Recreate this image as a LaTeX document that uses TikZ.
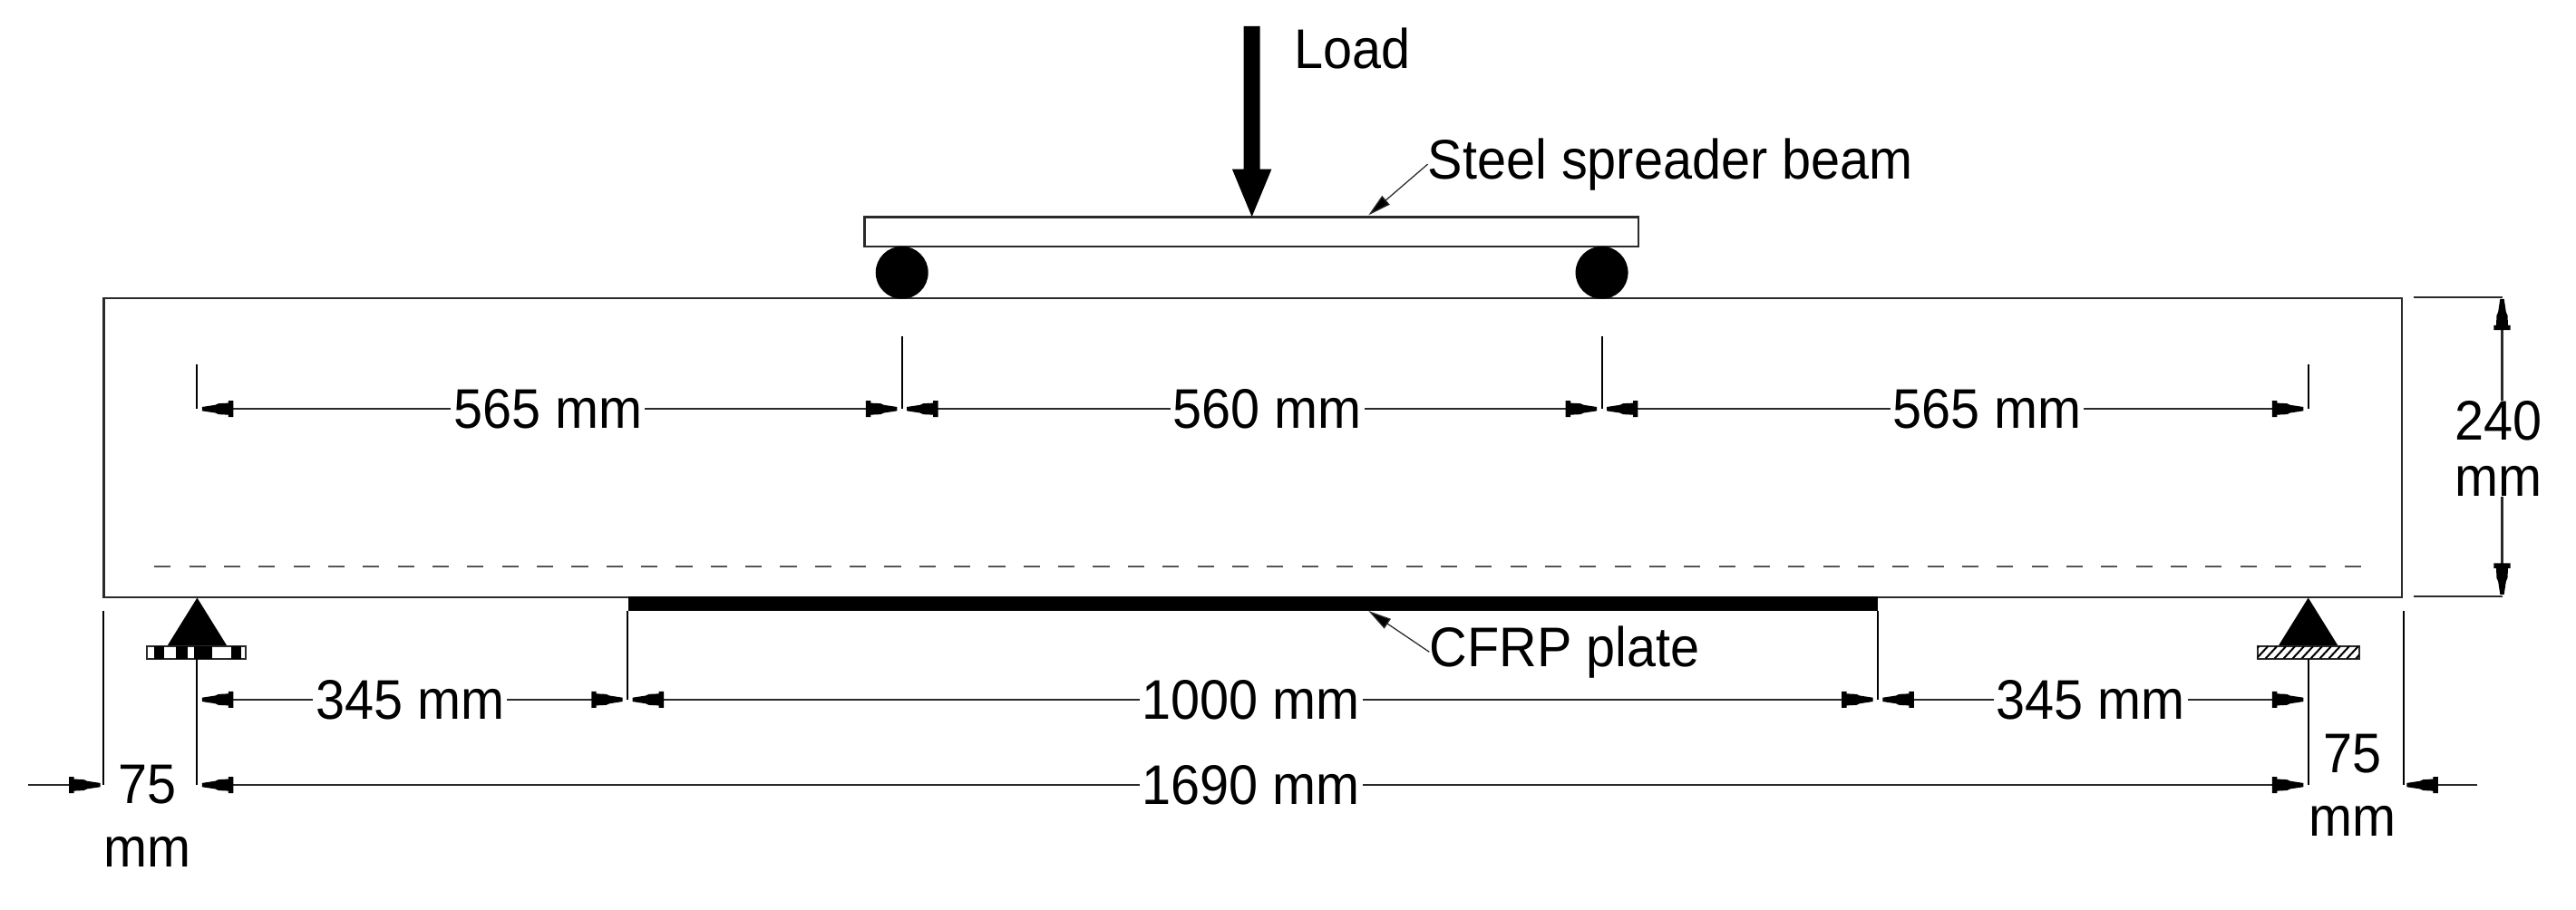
\documentclass[tikz,border=0pt]{standalone}
\usepackage{fontspec}
\setmainfont{Liberation Sans}
\usetikzlibrary{arrows.meta}
\definecolor{ln}{HTML}{2A2A2A}
\pgfdeclarearrow{
  name=BluntTip,
  setup code={
    \pgfarrowssettipend{0pt}
    \pgfarrowssetlineend{-6pt}
    \pgfarrowssetvisualbackend{-19pt}
    \pgfarrowssetbackend{-19pt}
    \pgfarrowshullpoint{0pt}{1.4pt}
    \pgfarrowshullpoint{0pt}{-1.4pt}
    \pgfarrowshullpoint{-19pt}{5pt}
    \pgfarrowshullpoint{-19pt}{-5pt}
  },
  drawing code={
    \pgfpathmoveto{\pgfpoint{0pt}{1.2pt}}
    \pgfpathlineto{\pgfpoint{-8pt}{2.4pt}}
    \pgfpathlineto{\pgfpoint{-10pt}{3.3pt}}
    \pgfpathlineto{\pgfpoint{-16pt}{3.6pt}}
    \pgfpathlineto{\pgfpoint{-16pt}{5pt}}
    \pgfpathlineto{\pgfpoint{-19pt}{5pt}}
    \pgfpathlineto{\pgfpoint{-19pt}{-5pt}}
    \pgfpathlineto{\pgfpoint{-16pt}{-5pt}}
    \pgfpathlineto{\pgfpoint{-16pt}{-3.6pt}}
    \pgfpathlineto{\pgfpoint{-10pt}{-3.3pt}}
    \pgfpathlineto{\pgfpoint{-8pt}{-2.4pt}}
    \pgfpathlineto{\pgfpoint{0pt}{-1.2pt}}
    \pgfpathclose
    \pgfsetcolor{black}
    \pgfusepathqfill
  }
}
\tikzset{
  x=1pt,y=-1pt,
  lbl/.style={font=\fontsize{34}{34}\selectfont,xscale=.935,text=black,inner sep=0pt,anchor=center},
  dimlbl/.style={lbl,fill=white,inner xsep=1.5pt},
  txt/.style={lbl,anchor=west},
  edge/.style={draw=ln,line width=1.3pt},
  tick/.style={draw=black,line width=1.1pt},
  dim/.style={draw=ln,line width=1.2pt,-BluntTip},
  leader/.style={draw=ln,line width=.7pt,-{Triangle[length=14pt,width=7pt,fill=black]}},
  solid black/.style={fill=black,draw=none},
}
\begin{document}
\begin{tikzpicture}
\useasboundingbox (0,0) rectangle (1568,554);
% coordinates
\coordinate (t120a) at (120,222); \coordinate (t120) at (120,249);
\coordinate (t549a) at (549,205); \coordinate (t549) at (549,249);
\coordinate (t975a) at (975,205); \coordinate (t975) at (975,249);
\coordinate (t1405a) at (1405,222); \coordinate (t1405) at (1405,249);
\coordinate (b120a) at (120,401); \coordinate (b120m) at (120,426); \coordinate (b120) at (120,478);
\coordinate (b382a) at (382,372); \coordinate (b382) at (382,426);
\coordinate (b1143a) at (1143,372); \coordinate (b1143) at (1143,426);
\coordinate (b1405a) at (1405,401); \coordinate (b1405m) at (1405,426); \coordinate (b1405) at (1405,478);
\coordinate (ol) at (63,478); \coordinate (ola) at (63,372); \coordinate (olf) at (17,478);
\coordinate (or) at (1463,478); \coordinate (ora) at (1463,372); \coordinate (orf) at (1508,478);
\coordinate (rt) at (1523,181); \coordinate (rb) at (1523,363);
\coordinate (rta) at (1469,181); \coordinate (rba) at (1469,363);
% beam
\node[edge,minimum width=1399pt,minimum height=182pt,inner sep=0pt,anchor=north west] (beam) at (62.5,181) {};
\draw[ln!80,line width=1.3pt,dash pattern=on 10pt off 11.16pt] (94,345) -- (1437,345);
% spreader
\node[edge,fill=white,minimum width=471pt,minimum height=18pt,inner sep=0pt,anchor=north west] (spreader) at (525.5,131.5) {};
\node[solid black,circle,minimum size=32pt,inner sep=0pt] (rollerL) at (549,166) {};
\node[solid black,circle,minimum size=32pt,inner sep=0pt] (rollerR) at (975,166) {};
% load arrow
\fill[black] (757,16) -- (767,16) -- (767,103) -- (774,103) -- (762,132) -- (750,103) -- (757,103) -- cycle;
\node[txt] (load) at (787.5,29.5) {Load};
% plate
\node[solid black,minimum width=761pt,minimum height=9pt,inner sep=0pt,anchor=north west] (cfrp) at (382,363) {};
% supports
\fill[black] (120,364) -- (138,393) -- (102,393) -- cycle;
\draw[ln,fill=white,line width=1.1pt] (89.5,393.5) rectangle (149.5,401);
\foreach \a/\b in {94/100,107/114,118/129,141/147} \fill[black] (\a,393.5) rectangle (\b,401);
\fill[black] (1405,364) -- (1423,393) -- (1387,393) -- cycle;
\draw[ln,fill=white,line width=1.1pt] (1374,393.5) rectangle (1436,401);
\begin{scope}
\clip (1374,393.5) rectangle (1436,401);
\foreach \x in {1368,1373.5,...,1438} \draw[black,line width=1.1pt] (\x,401) -- (\x+7,393.5);
\end{scope}
% ticks
\foreach \a/\b in {t120a/t120,t549a/t549,t975a/t975,t1405a/t1405,b120a/b120,b382a/b382,b1143a/b1143,b1405a/b1405,ola/ol,ora/or}
  \draw[tick] (\a) -- (\b);
\draw[edge] (rta) -- (rt);
\draw[edge] (rba) -- (rb);
% dimension labels
\node[dimlbl] (d565l) at (333.5,249) {565 mm};
\node[dimlbl] (d560) at (771.5,249) {560 mm};
\node[dimlbl] (d565r) at (1209.5,249) {565 mm};
\node[dimlbl] (d345l) at (249.5,426) {345 mm};
\node[dimlbl] (d1000) at (761.5,426) {1000 mm};
\node[dimlbl] (d345r) at (1272.5,426) {345 mm};
\node[dimlbl] (d1690) at (761.5,478) {1690 mm};
\foreach \l/\e in {d565l/t120,d565l/t549,d560/t549,d560/t975,d565r/t975,d565r/t1405,d345l/b120m,d345l/b382,d1000/b382,d1000/b1143,d345r/b1143,d345r/b1405m,d1690/b120,d1690/b1405}
  \draw[dim,shorten >=3pt] (\l) -- (\e);
\draw[dim,shorten >=2pt] (olf) -- (ol);
\draw[dim,shorten >=2pt] (orf) -- (or);
% 240
\node[dimlbl,fill=none] (d240) at (1521,256) {240};
\node[dimlbl,fill=none] (d240m) at (1521,293) {mm};
\draw[dim,shorten >=1pt] (d240.north -| rt) -- (rt);
\draw[dim,shorten >=1pt] (d240m.south -| rb) -- (rb);
% 75
\node[lbl] (d75l) at (89.5,478) {75};
\node[lbl] (d75lm) at (89.5,519) {mm};
\node[lbl] (d75r) at (1432,459) {75};
\node[lbl] (d75rm) at (1432,500) {mm};
% callouts
\node[txt] (steel) at (869,100) {Steel spreader beam};
\node[txt] (cfrpl) at (870,397) {CFRP plate};
\coordinate (steelp) at (833,131);
\coordinate (cfrpp) at (833,372);
\draw[leader] (steel.west) -- (steelp);
\draw[leader] (cfrpl.west) -- (cfrpp);
\end{tikzpicture}
\end{document}
